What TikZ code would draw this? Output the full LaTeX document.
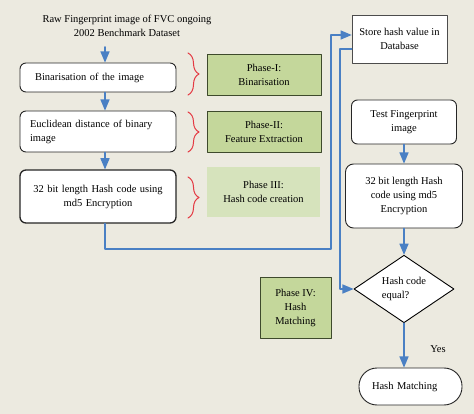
\documentclass[tikz,border=0pt]{standalone}
\usepackage{fontspec}
\setmainfont{Liberation Serif}
\usetikzlibrary{arrows}
\usetikzlibrary{shapes.geometric}
\usetikzlibrary{decorations.pathreplacing}
\definecolor{bgbeige}{HTML}{ECEAE0}
\definecolor{flowblue}{HTML}{4A80C4}
\definecolor{phasegreen}{HTML}{C4D79B}
\definecolor{phaselight}{HTML}{D6E3BC}
\definecolor{phaseedge}{HTML}{3E4A2C}
\definecolor{bracered}{HTML}{E43A43}
\begin{document}
\begin{tikzpicture}[line cap=round,line join=round,>=triangle 45,x=1pt,y=-1pt,
  every node/.style={font=\fontsize{10.5}{14}\selectfont,inner sep=0pt},
  procbox/.style={draw=black!85,fill=white,rounded corners=6pt,line width=0.9pt},
  storebox/.style={draw=black!70,fill=white,line width=0.7pt},
  phasebox/.style={draw=phaseedge,fill=phasegreen,line width=0.9pt,align=center},
  decision/.style={diamond,draw=black,fill=white,line width=0.9pt},
  flow/.style={draw=flowblue,line width=1.6pt},
  redbrace/.style={draw=bracered,line width=1pt,decorate,decoration={brace,amplitude=11pt}}]
\fill[bgbeige] (0,0) rectangle (474,414);
\useasboundingbox (0,0) rectangle (474,414);
\node[align=center] (title) at (127,26) {Raw Fingerprint image of FVC ongoing\\2002 Benchmark Dataset};
\node[procbox,minimum height=29pt,inner xsep=15pt,text width=126pt,align=left] (bin) at (98,77.5) {Binarisation of the image};
\node[procbox,minimum height=41pt,inner xsep=10pt,text width=136pt,align=left] (euc) at (98,131.5) {Euclidean distance of binary\\image};
\node[procbox,line width=1.3pt,minimum height=53pt,inner xsep=10pt,text width=136pt,align=center] (hash) at (98,196.5) {32 bit length Hash code using\\md5 Encryption};
\node[phasebox,minimum width=114pt,minimum height=41pt] (ph1) at (264,74.5) {Phase-I:\\Binarisation};
\node[phasebox,minimum width=114pt,minimum height=41pt] (ph2) at (264,131.5) {Phase-II:\\Feature Extraction};
\node[phasebox,draw=none,fill=phaselight,minimum width=113pt,minimum height=50pt] (ph3) at (263.5,192) {Phase III:\\Hash code creation};
\node[phasebox,minimum width=71pt,minimum height=61pt] (ph4) at (295.5,307.5) {Phase IV:\\Hash\\Matching};
\node[storebox,minimum width=95pt,minimum height=48pt,align=center] (store) at (399.5,39) {Store hash value in\\Database};
\node[procbox,minimum width=105pt,minimum height=44pt,align=center] (test) at (404,122) {Test Fingerprint\\image};
\node[procbox,rounded corners=8pt,minimum width=117pt,minimum height=64pt,align=center] (hash2) at (404,196) {32 bit length Hash\\code using md5\\Encryption};
\node[decision,minimum width=100pt,minimum height=67pt,align=left] (dia) at (404,289) {Hash code\\equal?};
\node[procbox,rounded corners=18pt,minimum height=37pt,inner xsep=13pt,text width=77pt,align=left] (match) at (410.5,386.5) {Hash Matching};
\node (yes) at (438,349) {Yes};
\draw[redbrace] (188,53) -- (188,95);
\draw[redbrace] (188,112) -- (188,152);
\draw[redbrace] (188,177) -- (188,218);
\coordinate (spine) at (105,0);
\coordinate (titlefoot) at (105,47);
\coordinate (lowturn) at (331,249);
\coordinate (upturn) at (331,35);
\coordinate (backturn) at (340,49);
\draw[flow,->] (titlefoot) -- (bin.north -| spine);
\draw[flow,->] (bin.south -| spine) -- (euc.north -| spine);
\draw[flow,->] (euc.south -| spine) -- (hash.north -| spine);
\draw[flow,->] (hash.south -| spine) |- (lowturn) -- (upturn) -- (upturn -| store.west);
\draw[flow,->] (backturn -| store.west) -- (backturn) |- (dia.west);
\draw[flow,->] (test) -- (hash2);
\draw[flow,->] (hash2) -- (dia);
\draw[flow,->] (dia.south) -- (dia.south |- match.north);
\end{tikzpicture}
\end{document}
